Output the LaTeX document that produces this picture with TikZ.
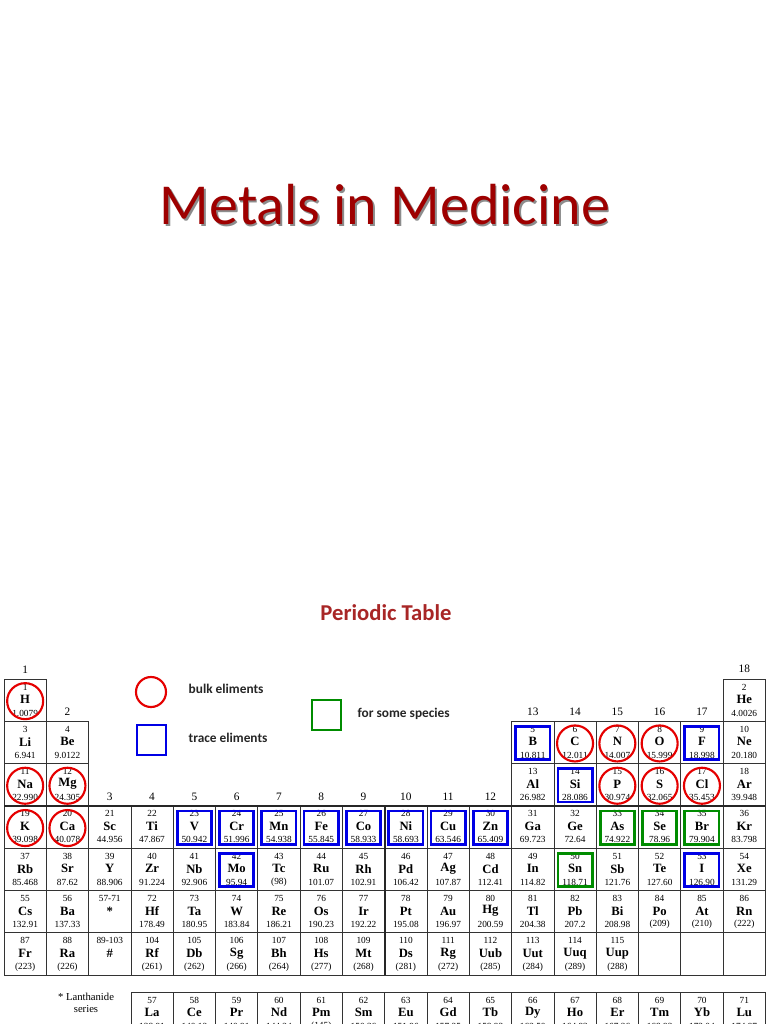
\documentclass[tikz,border=0pt]{standalone}
\usepackage{fontspec}
\setmainfont{Liberation Serif}
\newfontfamily\calfont{Carlito}
\begin{document}
\begin{tikzpicture}[x=0.75pt,y=-0.75pt,
  cell/.style={draw=black!80,line width=0.6pt},
  znum/.style={font=\fontsize{7}{7}\selectfont},
  esym/.style={font=\bfseries\fontsize{9.5}{9.5}\selectfont},
  emass/.style={font=\fontsize{7}{7}\selectfont},
  grp/.style={font=\fontsize{8.5}{8.5}\selectfont},
  bulk/.style={draw=red!90!black,line width=1.6pt},
  trace/.style={draw=blue!90!black,line width=2pt},
  some/.style={draw=green!55!black,line width=2pt},
  legend/.style={font=\calfont\bfseries\fontsize{10}{10}\selectfont,anchor=west,text=black!85}]
\useasboundingbox (0,0) rectangle (768,1024);
\clip (0,0) rectangle (768,1024);
\fill[white] (0,0) rectangle (768,1024);
\def\W{42.3}
\newcommand\pel[6]{%
  \pgfmathsetmacro\xl{4+(#1-1)*\W}\pgfmathsetmacro\yt{#6+(#2-1)*\W}%
  \draw[cell] (\xl,\yt) rectangle ++(\W,\W);
  \node[znum] (z#3) at (\xl+\W/2,\yt+8) {#3};
  \node[esym] (s#3) at (\xl+\W/2,\yt+20.5) {#4};
  \node[emass] (m#3) at (\xl+\W/2,\yt+34) {#5};}
\newcommand\pE[5]{\pel{#1}{#2}{#3}{#4}{#5}{679}}
\newcommand\mkc[2]{\pgfmathsetmacro\xl{4+(#1-0.5)*\W}\pgfmathsetmacro\yt{679+(#2-0.5)*\W}\draw[bulk] (\xl,\yt+1) circle (18);}
\newcommand\mks[3]{\pgfmathsetmacro\xl{4+(#1-1)*\W}\pgfmathsetmacro\yt{679+(#2-1)*\W}\draw[#3] (\xl+4,\yt+5) rectangle ++(\W-8,\W-9);}
% title
\node[font=\calfont\fontsize{43.5}{43.5}\selectfont,text=black!45] at (386.5,206.5) {Metals in Medicine};
\node[font=\calfont\fontsize{43.5}{43.5}\selectfont,text=red!62!black] (title) at (385,205) {Metals in Medicine};
\node[font=\calfont\bfseries\fontsize{17}{17}\selectfont,text=red!60!black!85] (sub) at (386,613) {Periodic Table};
% legend
\draw[bulk] (151,692) circle (15);
\node[legend] (lb) at (184,689) {bulk eliments};
\draw[trace] (137,725) rectangle (166,755);
\node[legend] (lt) at (184,738) {trace eliments};
\draw[some] (312,700) rectangle (341,730);
\node[legend] (ls) at (353,714) {for some species};
% group numbers
\foreach \c/\g/\y in {1/1/670,18/18/669,2/2/712,13/13/712,14/14/712,15/15/712,16/16/712,17/17/712,3/3/797,4/4/797,5/5/797,6/6/797,7/7/797,8/8/797,9/9/797,10/10/797,11/11/797,12/12/797}
  \node[grp] (g\g) at ({4+(\c-0.5)*\W},\y) {\g};
% elements
\pE{1}{1}{1}{H}{1.0079}\pE{18}{1}{2}{He}{4.0026}
\pE{1}{2}{3}{Li}{6.941}\pE{2}{2}{4}{Be}{9.0122}\pE{13}{2}{5}{B}{10.811}\pE{14}{2}{6}{C}{12.011}\pE{15}{2}{7}{N}{14.007}\pE{16}{2}{8}{O}{15.999}\pE{17}{2}{9}{F}{18.998}\pE{18}{2}{10}{Ne}{20.180}
\pE{1}{3}{11}{Na}{22.990}\pE{2}{3}{12}{Mg}{24.305}\pE{13}{3}{13}{Al}{26.982}\pE{14}{3}{14}{Si}{28.086}\pE{15}{3}{15}{P}{30.974}\pE{16}{3}{16}{S}{32.065}\pE{17}{3}{17}{Cl}{35.453}\pE{18}{3}{18}{Ar}{39.948}
\pE{1}{4}{19}{K}{39.098}\pE{2}{4}{20}{Ca}{40.078}\pE{3}{4}{21}{Sc}{44.956}\pE{4}{4}{22}{Ti}{47.867}\pE{5}{4}{23}{V}{50.942}\pE{6}{4}{24}{Cr}{51.996}\pE{7}{4}{25}{Mn}{54.938}\pE{8}{4}{26}{Fe}{55.845}\pE{9}{4}{27}{Co}{58.933}\pE{10}{4}{28}{Ni}{58.693}\pE{11}{4}{29}{Cu}{63.546}\pE{12}{4}{30}{Zn}{65.409}\pE{13}{4}{31}{Ga}{69.723}\pE{14}{4}{32}{Ge}{72.64}\pE{15}{4}{33}{As}{74.922}\pE{16}{4}{34}{Se}{78.96}\pE{17}{4}{35}{Br}{79.904}\pE{18}{4}{36}{Kr}{83.798}
\pE{1}{5}{37}{Rb}{85.468}\pE{2}{5}{38}{Sr}{87.62}\pE{3}{5}{39}{Y}{88.906}\pE{4}{5}{40}{Zr}{91.224}\pE{5}{5}{41}{Nb}{92.906}\pE{6}{5}{42}{Mo}{95.94}\pE{7}{5}{43}{Tc}{(98)}\pE{8}{5}{44}{Ru}{101.07}\pE{9}{5}{45}{Rh}{102.91}\pE{10}{5}{46}{Pd}{106.42}\pE{11}{5}{47}{Ag}{107.87}\pE{12}{5}{48}{Cd}{112.41}\pE{13}{5}{49}{In}{114.82}\pE{14}{5}{50}{Sn}{118.71}\pE{15}{5}{51}{Sb}{121.76}\pE{16}{5}{52}{Te}{127.60}\pE{17}{5}{53}{I}{126.90}\pE{18}{5}{54}{Xe}{131.29}
\pE{1}{6}{55}{Cs}{132.91}\pE{2}{6}{56}{Ba}{137.33}\pE{3}{6}{57-71}{*}{}\pE{4}{6}{72}{Hf}{178.49}\pE{5}{6}{73}{Ta}{180.95}\pE{6}{6}{74}{W}{183.84}\pE{7}{6}{75}{Re}{186.21}\pE{8}{6}{76}{Os}{190.23}\pE{9}{6}{77}{Ir}{192.22}\pE{10}{6}{78}{Pt}{195.08}\pE{11}{6}{79}{Au}{196.97}\pE{12}{6}{80}{Hg}{200.59}\pE{13}{6}{81}{Tl}{204.38}\pE{14}{6}{82}{Pb}{207.2}\pE{15}{6}{83}{Bi}{208.98}\pE{16}{6}{84}{Po}{(209)}\pE{17}{6}{85}{At}{(210)}\pE{18}{6}{86}{Rn}{(222)}
\pE{1}{7}{87}{Fr}{(223)}\pE{2}{7}{88}{Ra}{(226)}\pE{3}{7}{89-103}{\#}{}\pE{4}{7}{104}{Rf}{(261)}\pE{5}{7}{105}{Db}{(262)}\pE{6}{7}{106}{Sg}{(266)}\pE{7}{7}{107}{Bh}{(264)}\pE{8}{7}{108}{Hs}{(277)}\pE{9}{7}{109}{Mt}{(268)}\pE{10}{7}{110}{Ds}{(281)}\pE{11}{7}{111}{Rg}{(272)}\pE{12}{7}{112}{Uub}{(285)}\pE{13}{7}{113}{Uut}{(284)}\pE{14}{7}{114}{Uuq}{(289)}\pE{15}{7}{115}{Uup}{(288)}
\foreach \c in {16,17,18} \draw[cell] ({4+(\c-1)*\W},{679+6*\W}) rectangle ++(\W,\W);
% thicker separators
\draw[line width=1.2pt,black!85] (4,{679+3*\W}) -- ({4+18*\W},{679+3*\W});
\draw[line width=1.2pt,black!85] ({4+9*\W},{679+3*\W}) -- ({4+9*\W},{679+7*\W});
% lanthanides
\node[font=\fontsize{8}{9}\selectfont,align=center] (lan) at (86,1003) {* Lanthanide\\series};
\foreach \c/\z/\s/\m in {4/57/La/138.91,5/58/Ce/140.12,6/59/Pr/140.91,7/60/Nd/144.24,8/61/Pm/(145),9/62/Sm/150.36,10/63/Eu/151.96,11/64/Gd/157.25,12/65/Tb/158.93,13/66/Dy/162.50,14/67/Ho/164.93,15/68/Er/167.26,16/69/Tm/168.93,17/70/Yb/173.04,18/71/Lu/174.97}
  {\pel{\c}{1}{\z}{\s}{\m}{992}}
% markers
\mkc{1}{1}\mkc{1}{3}\mkc{2}{3}\mkc{1}{4}\mkc{2}{4}\mkc{14}{2}\mkc{15}{2}\mkc{16}{2}\mkc{15}{3}\mkc{16}{3}\mkc{17}{3}
\mks{5}{4}{trace}\mks{6}{4}{trace}\mks{7}{4}{trace}\mks{8}{4}{trace}\mks{9}{4}{trace}\mks{10}{4}{trace}\mks{11}{4}{trace}\mks{12}{4}{trace}\mks{6}{5}{trace}\mks{13}{2}{trace}\mks{17}{2}{trace}\mks{14}{3}{trace}\mks{17}{5}{trace}
\mks{15}{4}{some}\mks{16}{4}{some}\mks{17}{4}{some}\mks{14}{5}{some}
\end{tikzpicture}
\end{document}
